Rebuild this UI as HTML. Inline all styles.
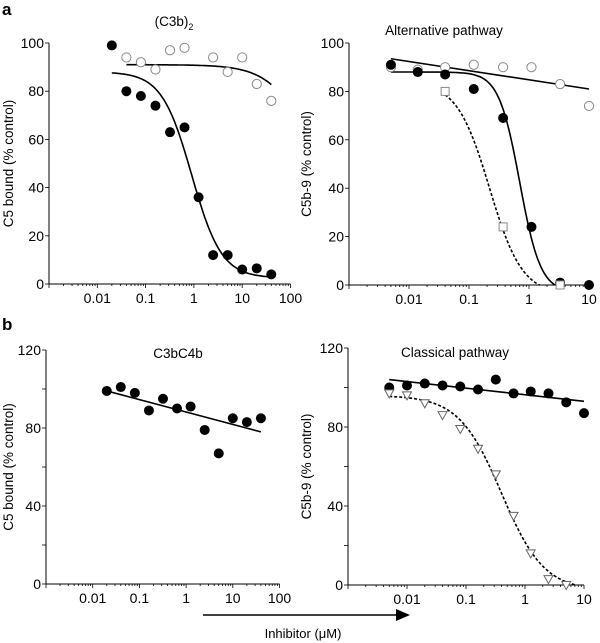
<!DOCTYPE html>
<html><head><meta charset="utf-8"><style>
body{margin:0;background:#fff;}
svg{display:block;font-family:"Liberation Sans",Arial,sans-serif;}
</style></head><body>
<svg id="fig" width="600" height="643" viewBox="0 0 600 643">
<text x="2" y="15" font-size="17" font-weight="bold">a</text>
<text x="2" y="330" font-size="17" font-weight="bold">b</text>
<line x1="203" y1="615" x2="398" y2="615" stroke="#000" stroke-width="1.6"/>
<polygon points="396,609 410,615 396,621" fill="#000"/>
<text x="303" y="638" font-size="13" text-anchor="middle">Inhibitor (μM)</text>
</svg>
<script>
// Panel A: (C3b)2
const aX = [0.02,0.04,0.08,0.16,0.32,0.64,1.25,2.5,5,10,20,40];
const aFilled = [99,80,78,74,63,65,36,12,12,6,6.5,4];
const aOpenX = [0.04,0.08,0.16,0.32,0.64,2.5,5,10,20,40];
const aOpen = [94,92,89,97,98,94,88,94,83,76];
const aFitFilled = [88,2.5,0.9,1.4];
const aFitOpen = [91,0,400,1];
// Panel B: Alternative pathway
const bX = [0.005,0.014,0.04,0.12,0.37,1.1,3.3,10];
const bOpen = [90,89,90,91,90,90,83,74];
const bFilled = [91,88,87,81,69,24,1,0];
const bSqX = [0.04,0.37,3.3];
const bSq = [80,24,0];
const bFitFilled = [88,-3,0.7,2.5];
const bFitSq = [84,-4,0.22,1.6];
const bLineOpen = [93.5,81];
// Panel C: C3bC4b
const cX = [0.02,0.04,0.08,0.16,0.32,0.64,1.25,2.5,5,10,20,40];
const cFilled = [99,101,98,89,95,90,91,79,67,85,83,85];
const cLine = [99,78];
// Panel D: Classical pathway
const dX = [0.005,0.01,0.02,0.04,0.08,0.16,0.32,0.64,1.25,2.5,5,10];
const dFilled = [100,101,102,101,100.5,99,104,97,98,97,92.5,87];
const dTriX = [0.005,0.01,0.02,0.04,0.08,0.16,0.32,0.64,1.25,2.5,5];
const dTri = [97,96,92,86,79,69,56,35,16,3,0];
const dFitTri = [96,-3,0.4,1.2];
const dLine = [104,93];
const tickLabelsLog = ['0.01','0.1','1','10','100'];

const NS='http://www.w3.org/2000/svg';
const svg=document.getElementById('fig');
function mk(tag,attrs,parent){const e=document.createElementNS(NS,tag);for(const k in attrs)e.setAttribute(k,attrs[k]);(parent||svg).appendChild(e);return e;}
function logistic(p,x){return p[1]+(p[0]-p[1])/(1+Math.pow(x/p[2],p[3]));}

function panel(o){
  const g=mk('g',{});
  
  
  const sx=v=>o.x0+(Math.log10(v)+3)*o.dec;
  const sy=v=>o.y0-(v/o.ymax)*(o.y0-o.yTop);
  const xEnd=sx(o.xmax);
  const ax=mk('line',{x1:o.x0,y1:o.y0,x2:xEnd,y2:o.y0,stroke:'#000','stroke-width':1},g);
  
  
  const ay=mk('line',{x1:o.x0,y1:o.y0,x2:o.x0,y2:o.yTop,stroke:'#000','stroke-width':1},g);
  
  
  for(let d=-3;d<Math.log10(o.xmax)+0.01;d++){
    for(let m=1;m<10;m++){
      const v=m*Math.pow(10,d); if(v>o.xmax*1.001)break;
      const X=sx(v);
      mk('line',{x1:X,y1:o.y0,x2:X,y2:o.y0+(m==1?4:2),stroke:'#000','stroke-width':0.8},g);
    }
  }
  o.xlabels.forEach((t)=>{
    const X=sx(parseFloat(t));
    const tx=mk('text',{x:X,y:o.y0+19,'font-size':14,'text-anchor':'middle'},g);
    tx.textContent=t;
    
    
  });
  for(let v=0;v<=o.ymax;v+=o.yminor){
    const Y=sy(v);
    mk('line',{x1:o.x0-4,y1:Y,x2:o.x0,y2:Y,stroke:'#000','stroke-width':0.8},g);
    if(v%o.ystep===0){
      const tx=mk('text',{x:o.x0-5,y:Y+5,'font-size':14,'text-anchor':'end'},g);
      tx.textContent=v;
      
      
    }
  }
  const yt=mk('text',{x:0,y:0,'font-size':13.5,'text-anchor':'middle',transform:`translate(${o.ytx},${(o.y0+o.yTop)/2}) rotate(-90)`},g);
  yt.textContent=o.ytitle;
  
  
  const tt=mk('text',{x:o.tx,y:o.ty,'font-size':13.5,'text-anchor':'middle'},g);
  tt.innerHTML=o.title;
  
  
  return {g,sx,sy};
}
function curve(P,p,x1,x2,dash,name){
  let d='';const n=120;
  for(let i=0;i<=n;i++){
    const x=Math.pow(10,Math.log10(x1)+(Math.log10(x2)-Math.log10(x1))*i/n);
    let y=logistic(p,x); if(y<0){y=0; d+=(d?'L':'M')+P.sx(x).toFixed(1)+' '+P.sy(y).toFixed(1);break;}
    d+=(d?'L':'M')+P.sx(x).toFixed(1)+' '+P.sy(y).toFixed(1);
  }
  const e=mk('path',{d:d,fill:'none',stroke:'#000','stroke-width':1.6,'stroke-dasharray':dash?'3,2':'none'},P.g);
  
  
}
function line(P,x1,x2,vals,name){
  const e=mk('line',{x1:P.sx(x1),y1:P.sy(vals[0]),x2:P.sx(x2),y2:P.sy(vals[1]),stroke:'#000','stroke-width':1.6},P.g);
  
  
}
function dots(P,xs,ys,kind,name){
  xs.forEach((x,i)=>{
    const X=P.sx(x),Y=P.sy(ys[i]);let e;
    if(kind==='filled')e=mk('circle',{cx:X,cy:Y,r:5,fill:'#000'},P.g);
    else if(kind==='open')e=mk('circle',{cx:X,cy:Y,r:4.6,fill:'#fff',stroke:'#888','stroke-width':1},P.g);
    else if(kind==='square')e=mk('rect',{x:X-4,y:Y-4,width:8,height:8,fill:'#fff',stroke:'#888','stroke-width':1},P.g);
    else e=mk('polygon',{points:`${X-4.5},${Y-3.5} ${X+4.5},${Y-3.5} ${X},${Y+4.5}`,fill:'#fff',stroke:'#666','stroke-width':1},P.g);
    
    
  });
}

const A=panel({name:'panel-c3b2',x0:49,dec:48.3,xmax:100,y0:284,yTop:43,ymax:100,ystep:20,yminor:20,xlabels:tickLabelsLog,ytitle:'C5 bound (% control)',ytx:13,title:'(C3b)<tspan font-size="9" dy="4">2</tspan>',tx:174,ty:26});
curve(A,aFitOpen,0.04,40,false,'fit-open-c3b2');
curve(A,aFitFilled,0.02,40,false,'fit-filled-c3b2');
dots(A,aOpenX,aOpen,'open','point-open-c3b2');
dots(A,aX,aFilled,'filled','point-filled-c3b2');

const B=panel({name:'panel-alternative',x0:349,dec:60,xmax:10,y0:285,yTop:43,ymax:100,ystep:20,yminor:20,xlabels:tickLabelsLog.slice(0,4),ytitle:'C5b-9 (% control)',ytx:311,title:'Alternative pathway',tx:444,ty:35});
line(B,0.005,10,bLineOpen,'fit-open-alternative');
curve(B,bFitFilled,0.005,10,false,'fit-filled-alternative');
curve(B,bFitSq,0.04,10,true,'fit-square-alternative');
dots(B,bX,bOpen,'open','point-open-alternative');
dots(B,bX,bFilled,'filled','point-filled-alternative');
dots(B,bSqX,bSq,'square','point-square-alternative');

const C=panel({name:'panel-c3bc4b',x0:46,dec:46.7,xmax:100,y0:584,yTop:350,ymax:120,ystep:40,yminor:20,xlabels:tickLabelsLog,ytitle:'C5 bound (% control)',ytx:13,title:'C3bC4b',tx:178,ty:358});
line(C,0.02,40,cLine,'fit-c3bc4b');
dots(C,cX,cFilled,'filled','point-c3bc4b');

const D=panel({name:'panel-classical',x0:348,dec:59,xmax:10,y0:585,yTop:348,ymax:120,ystep:40,yminor:20,xlabels:tickLabelsLog.slice(0,4),ytitle:'C5b-9 (% control)',ytx:311,title:'Classical pathway',tx:455,ty:357});
line(D,0.005,10,dLine,'fit-filled-classical');
curve(D,dFitTri,0.005,10,true,'fit-triangle-classical');
dots(D,dX,dFilled,'filled','point-filled-classical');
dots(D,dTriX,dTri,'triangle','point-triangle-classical');
</script>
</body></html>
